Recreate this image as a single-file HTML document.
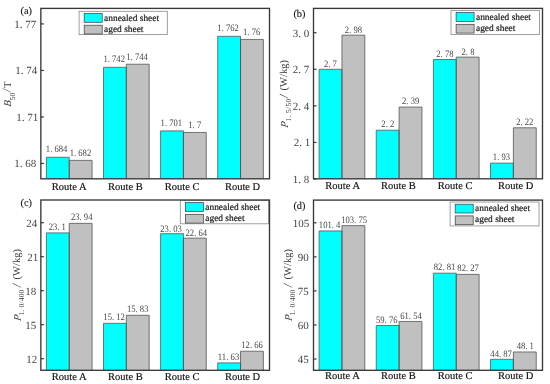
<!DOCTYPE html>
<html><head><meta charset="utf-8"><style>
html,body{margin:0;padding:0;background:#fff;}
svg{display:block;}
text{font-family:"Liberation Serif","Times New Roman",serif;text-rendering:geometricPrecision;}
.v{font-family:'Liberation Serif',serif;font-size:9.8px;fill:#484848}
.t{font-family:'Liberation Serif',serif;font-size:11px;fill:#444}
.r{font-family:'Liberation Serif',serif;font-size:10.5px;fill:#111;stroke:#111;stroke-width:0.15px}
.pl{font-family:'Liberation Serif',serif;font-size:10.3px;fill:#111;stroke:#111;stroke-width:0.12px}
.lg{font-size:9.4px;fill:#1a1a1a;stroke:#1a1a1a;stroke-width:0.2px;}
.yl{fill:#3c3c3c;}
</style></head><body>
<svg width="550" height="384" viewBox="0 0 550 384">
<rect width="550" height="384" fill="#fff"/>
<rect x="46.4" y="157.27" width="22.84" height="21.53" fill="#00ffff"/>
<rect x="69.24" y="160.37" width="22.84" height="18.43" fill="#c0c0c0"/>
<rect x="103.5" y="67.32" width="22.84" height="111.48" fill="#00ffff"/>
<rect x="126.34" y="64.22" width="22.84" height="114.58" fill="#c0c0c0"/>
<rect x="160.6" y="130.9" width="22.84" height="47.9" fill="#00ffff"/>
<rect x="183.44" y="132.45" width="22.84" height="46.35" fill="#c0c0c0"/>
<rect x="217.7" y="36.31" width="22.84" height="142.49" fill="#00ffff"/>
<rect x="240.54" y="39.41" width="22.84" height="139.39" fill="#c0c0c0"/>
<path d="M46.4 178.8V157.27H69.24V178.8M69.24 178.8V160.37H92.08V178.8M103.5 178.8V67.32H126.34V178.8M126.34 178.8V64.22H149.18V178.8M160.6 178.8V130.9H183.44V178.8M183.44 178.8V132.45H206.28V178.8M217.7 178.8V36.31H240.54V178.8M240.54 178.8V39.41H263.38V178.8" fill="none" stroke="#555" stroke-width="0.8"/>
<text class="v" x="45.85" y="151.8" textLength="21.56" lengthAdjust="spacingAndGlyphs">1. 684</text>
<text class="v" x="69.65" y="156" textLength="21.56" lengthAdjust="spacingAndGlyphs">1. 682</text>
<text class="r" x="51.8" y="189.5">Route A</text>
<text class="v" x="103.45" y="62" textLength="21.56" lengthAdjust="spacingAndGlyphs">1. 742</text>
<text class="v" x="126.3" y="60.2" textLength="21.56" lengthAdjust="spacingAndGlyphs">1. 744</text>
<text class="r" x="108" y="189.5">Route B</text>
<text class="v" x="160.6" y="125.8" textLength="21.56" lengthAdjust="spacingAndGlyphs">1. 701</text>
<text class="v" x="188.3" y="128" textLength="12.94" lengthAdjust="spacingAndGlyphs">1. 7</text>
<text class="r" x="164.8" y="189.5">Route C</text>
<text class="v" x="217.35" y="31.1" textLength="21.56" lengthAdjust="spacingAndGlyphs">1. 762</text>
<text class="v" x="243.05" y="35.3" textLength="17.25" lengthAdjust="spacingAndGlyphs">1. 76</text>
<text class="r" x="224.9" y="189.5">Route D</text>
<line x1="40.85" y1="163.47" x2="43.85" y2="163.47" stroke="#333" stroke-width="1.2"/>
<text class="t" x="14.15" y="167.47">1. 68</text>
<line x1="40.85" y1="116.95" x2="43.85" y2="116.95" stroke="#333" stroke-width="1.2"/>
<text class="t" x="16.15" y="120.95">1. 71</text>
<line x1="40.85" y1="70.43" x2="43.85" y2="70.43" stroke="#333" stroke-width="1.2"/>
<text class="t" x="15.15" y="74.43">1. 74</text>
<line x1="40.85" y1="23.9" x2="43.85" y2="23.9" stroke="#333" stroke-width="1.2"/>
<text class="t" x="14.15" y="27.9">1. 77</text>
<rect x="79.1" y="11.3" width="88.2" height="23.3" fill="#fff" stroke="#888" stroke-width="0.8"/>
<rect x="84.2" y="13.5" width="18" height="8.8" fill="#00ffff" stroke="#3a3a3a" stroke-width="0.7"/>
<rect x="84.2" y="25.2" width="18" height="8.8" fill="#c0c0c0" stroke="#3a3a3a" stroke-width="0.7"/>
<text class="lg" x="104.1" y="20.6">annealed sheet</text>
<text class="lg" x="104.1" y="31.6">aged sheet</text>
<rect x="40.85" y="8.4" width="228.65" height="170.4" fill="none" stroke="#383838" stroke-width="1.35"/>
<text class="pl" x="20.6" y="13.9">(a)</text>
<rect x="319.1" y="69.29" width="22.86" height="109.51" fill="#00ffff"/>
<rect x="341.96" y="35.16" width="22.86" height="143.64" fill="#c0c0c0"/>
<rect x="376.24" y="130.23" width="22.86" height="48.57" fill="#00ffff"/>
<rect x="399.1" y="107.07" width="22.86" height="71.73" fill="#c0c0c0"/>
<rect x="433.38" y="59.54" width="22.86" height="119.26" fill="#00ffff"/>
<rect x="456.24" y="57.1" width="22.86" height="121.7" fill="#c0c0c0"/>
<rect x="490.52" y="163.14" width="22.86" height="15.66" fill="#00ffff"/>
<rect x="513.38" y="127.79" width="22.86" height="51.01" fill="#c0c0c0"/>
<path d="M319.1 178.8V69.29H341.96V178.8M341.96 178.8V35.16H364.82V178.8M376.24 178.8V130.23H399.1V178.8M399.1 178.8V107.07H421.96V178.8M433.38 178.8V59.54H456.24V178.8M456.24 178.8V57.1H479.1V178.8M490.52 178.8V163.14H513.38V178.8M513.38 178.8V127.79H536.24V178.8" fill="none" stroke="#555" stroke-width="0.8"/>
<text class="v" x="324" y="66.9" textLength="12.94" lengthAdjust="spacingAndGlyphs">2. 7</text>
<text class="v" x="344.8" y="32.5" textLength="17.25" lengthAdjust="spacingAndGlyphs">2. 98</text>
<text class="r" x="325.3" y="189.1">Route A</text>
<text class="v" x="381.35" y="127.3" textLength="12.94" lengthAdjust="spacingAndGlyphs">2. 2</text>
<text class="v" x="402.03" y="104.27" textLength="17.25" lengthAdjust="spacingAndGlyphs">2. 39</text>
<text class="r" x="381" y="189.1">Route B</text>
<text class="v" x="436.25" y="56.9" textLength="17.25" lengthAdjust="spacingAndGlyphs">2. 78</text>
<text class="v" x="461.55" y="54.7" textLength="12.94" lengthAdjust="spacingAndGlyphs">2. 8</text>
<text class="r" x="437.85" y="189.1">Route C</text>
<text class="v" x="492.85" y="160.3" textLength="17.25" lengthAdjust="spacingAndGlyphs">1. 93</text>
<text class="v" x="516.15" y="125.2" textLength="17.25" lengthAdjust="spacingAndGlyphs">2. 22</text>
<text class="r" x="498.1" y="189.1">Route D</text>
<line x1="313.5" y1="178.98" x2="316.5" y2="178.98" stroke="#333" stroke-width="1.2"/>
<text class="t" x="292.8" y="182.98">1. 8</text>
<line x1="313.5" y1="142.42" x2="316.5" y2="142.42" stroke="#333" stroke-width="1.2"/>
<text class="t" x="293.8" y="146.42">2. 1</text>
<line x1="313.5" y1="105.85" x2="316.5" y2="105.85" stroke="#333" stroke-width="1.2"/>
<text class="t" x="292.8" y="109.85">2. 4</text>
<line x1="313.5" y1="69.29" x2="316.5" y2="69.29" stroke="#333" stroke-width="1.2"/>
<text class="t" x="292.8" y="73.29">2. 7</text>
<line x1="313.5" y1="32.72" x2="316.5" y2="32.72" stroke="#333" stroke-width="1.2"/>
<text class="t" x="292.8" y="36.72">3. 0</text>
<rect x="451" y="10.4" width="88.4" height="24" fill="#fff" stroke="#888" stroke-width="0.8"/>
<rect x="456.1" y="12.6" width="18" height="8.8" fill="#00ffff" stroke="#3a3a3a" stroke-width="0.7"/>
<rect x="456.1" y="24.3" width="18" height="8.8" fill="#c0c0c0" stroke="#3a3a3a" stroke-width="0.7"/>
<text class="lg" x="476" y="19.7">annealed sheet</text>
<text class="lg" x="476" y="30.7">aged sheet</text>
<rect x="313.5" y="8.4" width="229" height="170.4" fill="none" stroke="#383838" stroke-width="1.35"/>
<text class="pl" x="293.4" y="16.85">(b)</text>
<rect x="46.4" y="232.9" width="22.84" height="137.4" fill="#00ffff"/>
<rect x="69.24" y="223.38" width="22.84" height="146.92" fill="#c0c0c0"/>
<rect x="103.5" y="323.34" width="22.84" height="46.96" fill="#00ffff"/>
<rect x="126.34" y="315.29" width="22.84" height="55.01" fill="#c0c0c0"/>
<rect x="160.6" y="233.7" width="22.84" height="136.6" fill="#00ffff"/>
<rect x="183.44" y="238.12" width="22.84" height="132.18" fill="#c0c0c0"/>
<rect x="217.7" y="362.89" width="22.84" height="7.41" fill="#00ffff"/>
<rect x="240.54" y="351.22" width="22.84" height="19.08" fill="#c0c0c0"/>
<path d="M46.4 370.3V232.9H69.24V370.3M69.24 370.3V223.38H92.08V370.3M103.5 370.3V323.34H126.34V370.3M126.34 370.3V315.29H149.18V370.3M160.6 370.3V233.7H183.44V370.3M183.44 370.3V238.12H206.28V370.3M217.7 370.3V362.89H240.54V370.3M240.54 370.3V351.22H263.38V370.3" fill="none" stroke="#555" stroke-width="0.8"/>
<text class="v" x="48.65" y="229.6" textLength="17.25" lengthAdjust="spacingAndGlyphs">23. 1</text>
<text class="v" x="70.9" y="219.8" textLength="21.56" lengthAdjust="spacingAndGlyphs">23. 94</text>
<text class="r" x="51.8" y="379.7">Route A</text>
<text class="v" x="103.35" y="320.2" textLength="21.56" lengthAdjust="spacingAndGlyphs">15. 12</text>
<text class="v" x="126.9" y="311.8" textLength="21.56" lengthAdjust="spacingAndGlyphs">15. 83</text>
<text class="r" x="108" y="379.7">Route B</text>
<text class="v" x="160.3" y="231.9" textLength="21.56" lengthAdjust="spacingAndGlyphs">23. 03</text>
<text class="v" x="185.55" y="235.7" textLength="21.56" lengthAdjust="spacingAndGlyphs">22. 64</text>
<text class="r" x="164.8" y="379.7">Route C</text>
<text class="v" x="217.75" y="359.5" textLength="21.56" lengthAdjust="spacingAndGlyphs">11. 63</text>
<text class="v" x="241.3" y="347.8" textLength="21.56" lengthAdjust="spacingAndGlyphs">12. 66</text>
<text class="r" x="224.9" y="379.7">Route D</text>
<line x1="40.85" y1="358.7" x2="43.85" y2="358.7" stroke="#333" stroke-width="1.2"/>
<text class="t" x="26.15" y="362.7">12</text>
<line x1="40.85" y1="324.7" x2="43.85" y2="324.7" stroke="#333" stroke-width="1.2"/>
<text class="t" x="25.15" y="328.7">15</text>
<line x1="40.85" y1="290.7" x2="43.85" y2="290.7" stroke="#333" stroke-width="1.2"/>
<text class="t" x="25.15" y="294.7">18</text>
<line x1="40.85" y1="256.7" x2="43.85" y2="256.7" stroke="#333" stroke-width="1.2"/>
<text class="t" x="27.15" y="260.7">21</text>
<line x1="40.85" y1="222.7" x2="43.85" y2="222.7" stroke="#333" stroke-width="1.2"/>
<text class="t" x="26.15" y="226.7">24</text>
<rect x="180.3" y="200.4" width="88.1" height="23.4" fill="#fff" stroke="#888" stroke-width="0.8"/>
<rect x="185.4" y="202.6" width="18" height="8.8" fill="#00ffff" stroke="#3a3a3a" stroke-width="0.7"/>
<rect x="185.4" y="214.3" width="18" height="8.8" fill="#c0c0c0" stroke="#3a3a3a" stroke-width="0.7"/>
<text class="lg" x="205.3" y="209.7">annealed sheet</text>
<text class="lg" x="205.3" y="220.7">aged sheet</text>
<rect x="40.85" y="200" width="228.65" height="170.3" fill="none" stroke="#383838" stroke-width="1.35"/>
<text class="pl" x="20.6" y="205.9">(c)</text>
<rect x="319.1" y="230.96" width="22.86" height="139.34" fill="#00ffff"/>
<rect x="341.96" y="225.63" width="22.86" height="144.67" fill="#c0c0c0"/>
<rect x="376.24" y="325.5" width="22.86" height="44.8" fill="#00ffff"/>
<rect x="399.1" y="321.46" width="22.86" height="48.84" fill="#c0c0c0"/>
<rect x="433.38" y="273.17" width="22.86" height="97.13" fill="#00ffff"/>
<rect x="456.24" y="274.4" width="22.86" height="95.9" fill="#c0c0c0"/>
<rect x="490.52" y="359.31" width="22.86" height="10.99" fill="#00ffff"/>
<rect x="513.38" y="351.97" width="22.86" height="18.33" fill="#c0c0c0"/>
<path d="M319.1 370.3V230.96H341.96V370.3M341.96 370.3V225.63H364.82V370.3M376.24 370.3V325.5H399.1V370.3M399.1 370.3V321.46H421.96V370.3M433.38 370.3V273.17H456.24V370.3M456.24 370.3V274.4H479.1V370.3M490.52 370.3V359.31H513.38V370.3M513.38 370.3V351.97H536.24V370.3" fill="none" stroke="#555" stroke-width="0.8"/>
<text class="v" x="318.85" y="228.1" textLength="21.56" lengthAdjust="spacingAndGlyphs">101. 4</text>
<text class="v" x="341.15" y="222.6" textLength="25.87" lengthAdjust="spacingAndGlyphs">103. 75</text>
<text class="r" x="325" y="379.35">Route A</text>
<text class="v" x="376.05" y="322.5" textLength="21.56" lengthAdjust="spacingAndGlyphs">59. 76</text>
<text class="v" x="400.25" y="318.7" textLength="21.56" lengthAdjust="spacingAndGlyphs">61. 54</text>
<text class="r" x="381" y="379.35">Route B</text>
<text class="v" x="433.8" y="270.3" textLength="21.56" lengthAdjust="spacingAndGlyphs">82. 81</text>
<text class="v" x="457.35" y="271.4" textLength="21.56" lengthAdjust="spacingAndGlyphs">82. 27</text>
<text class="r" x="437.85" y="379.35">Route C</text>
<text class="v" x="490.35" y="356.7" textLength="21.56" lengthAdjust="spacingAndGlyphs">44. 87</text>
<text class="v" x="516.65" y="349" textLength="17.25" lengthAdjust="spacingAndGlyphs">48. 1</text>
<text class="r" x="498.1" y="379.35">Route D</text>
<line x1="313.5" y1="359.01" x2="316.5" y2="359.01" stroke="#333" stroke-width="1.2"/>
<text class="t" x="297.8" y="363.01">45</text>
<line x1="313.5" y1="324.96" x2="316.5" y2="324.96" stroke="#333" stroke-width="1.2"/>
<text class="t" x="297.8" y="328.96">60</text>
<line x1="313.5" y1="290.9" x2="316.5" y2="290.9" stroke="#333" stroke-width="1.2"/>
<text class="t" x="297.8" y="294.9">75</text>
<line x1="313.5" y1="256.85" x2="316.5" y2="256.85" stroke="#333" stroke-width="1.2"/>
<text class="t" x="297.8" y="260.85">90</text>
<line x1="313.5" y1="222.79" x2="316.5" y2="222.79" stroke="#333" stroke-width="1.2"/>
<text class="t" x="292.8" y="226.79">105</text>
<rect x="450.1" y="202" width="88.9" height="23.9" fill="#fff" stroke="#888" stroke-width="0.8"/>
<rect x="455.2" y="204.2" width="18" height="8.8" fill="#00ffff" stroke="#3a3a3a" stroke-width="0.7"/>
<rect x="455.2" y="215.9" width="18" height="8.8" fill="#c0c0c0" stroke="#3a3a3a" stroke-width="0.7"/>
<text class="lg" x="475.1" y="211.3">annealed sheet</text>
<text class="lg" x="475.1" y="222.3">aged sheet</text>
<rect x="313.5" y="200.1" width="229" height="170.2" fill="none" stroke="#383838" stroke-width="1.35"/>
<text class="pl" x="293.4" y="208.85">(d)</text>
<text class="yl" font-size="10.5" font-style="italic" transform="translate(11.25,106.9) rotate(-90) skewX(-8)">B</text>
<text class="yl" font-size="7.5" transform="translate(14.75,100.35) rotate(-90)">50</text>
<text class="yl" font-size="12.5" transform="translate(11.45,92.6) rotate(-90) skewX(-6)">/</text>
<text class="yl" font-size="10.5" transform="translate(11.35,87.9) rotate(-90)">T</text>
<text class="yl" font-size="10.5" transform="translate(286.95,90.45) rotate(-90)" textLength="30.5" lengthAdjust="spacing">(W/kg)</text>
<text class="yl" font-size="12.5" transform="translate(287.6,98.4) rotate(-90) skewX(-8)">/</text>
<text class="yl" font-size="7.5" transform="translate(291.1,121.4) rotate(-90)" textLength="22.6" lengthAdjust="spacing">1. 5/50</text>
<text class="yl" font-size="10.5" font-style="italic" transform="translate(287.8,127.95) rotate(-90) skewX(-8)">P</text>
<text class="yl" font-size="10.5" transform="translate(19.6,279.55) rotate(-90)" textLength="30.5" lengthAdjust="spacing">(W/kg)</text>
<text class="yl" font-size="12.5" transform="translate(20.6,287.85) rotate(-90) skewX(-8)">/</text>
<text class="yl" font-size="7.5" transform="translate(23.8,315.55) rotate(-90)" textLength="25.9" lengthAdjust="spacing">1. 0/400</text>
<text class="yl" font-size="10.5" font-style="italic" transform="translate(20.55,321.3) rotate(-90) skewX(-8)">P</text>
<text class="yl" font-size="10.5" transform="translate(290.6,279.55) rotate(-90)" textLength="30.5" lengthAdjust="spacing">(W/kg)</text>
<text class="yl" font-size="12.5" transform="translate(291.6,287.85) rotate(-90) skewX(-8)">/</text>
<text class="yl" font-size="7.5" transform="translate(294.8,315.55) rotate(-90)" textLength="25.9" lengthAdjust="spacing">1. 0/400</text>
<text class="yl" font-size="10.5" font-style="italic" transform="translate(291.55,321.3) rotate(-90) skewX(-8)">P</text>
</svg></body></html>
